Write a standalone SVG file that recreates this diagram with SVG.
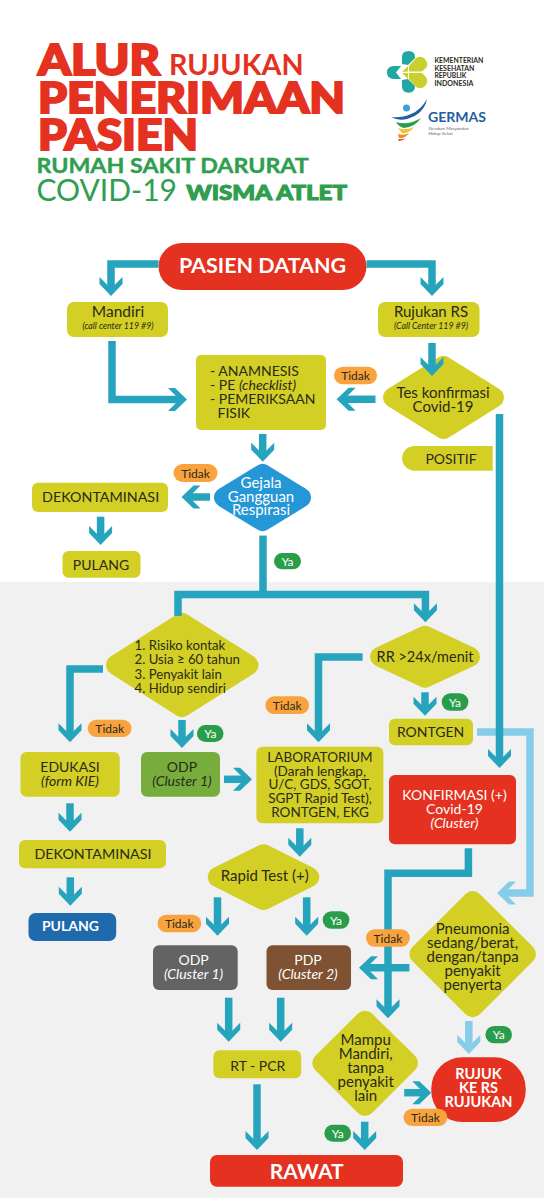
<svg xmlns="http://www.w3.org/2000/svg" width="544" height="1198" viewBox="0 0 544 1198">
<defs>
<marker id="ah" viewBox="-11 -12 21 24" markerWidth="21" markerHeight="24" refX="0" refY="0" markerUnits="userSpaceOnUse" orient="auto"><polygon fill="#27a4bd" points="9,0 -3,11.5 -10,11.5 -2,3.5 -2,-3.5 -10,-11.5 -3,-11.5"/></marker>
<marker id="ahl" viewBox="-11 -12 21 24" markerWidth="21" markerHeight="24" refX="0" refY="0" markerUnits="userSpaceOnUse" orient="auto"><polygon fill="#86cdea" points="9,0 -3,11.5 -10,11.5 -2,3.5 -2,-3.5 -10,-11.5 -3,-11.5"/></marker>
</defs>
<style>
text{font-family:"Lato","Open Sans","Liberation Sans",sans-serif;fill:#2a2a1a;text-anchor:middle;font-size:14px}
.y{fill:#d3cf24}
.dy{fill:#d3cf24;stroke:#d3cf24;stroke-width:20;stroke-linejoin:round}
.dz{fill:#2596d6;stroke:#2596d6;stroke-width:20;stroke-linejoin:round}
.c{fill:none;stroke:#27a4bd;stroke-width:7.5;marker-end:url(#ah)}
.n{fill:none;stroke:#27a4bd;stroke-width:7.5}
.l{fill:none;stroke:#86cdea;stroke-width:7.5;marker-end:url(#ahl)}
.o{fill:#f9a33f}
.g{fill:#2a9d4a}
.i{font-style:italic}
.s{font-size:8.8px;font-style:italic}
.p{font-size:12px}
.pw{font-size:12px;fill:#fff}
.b{font-weight:700}
.r{fill:#e5311f;font-weight:900;font-size:42px;stroke:#e5311f;stroke-width:2}
.gr{fill:#2f9e4f}
.st{text-anchor:start}
.f15{font-size:15px}
.wt{fill:#fff}
</style>
<rect width="544" height="1198" fill="#fff"/>
<rect y="582" width="544" height="616" fill="#f1f1f1"/>
<g id="title">
<text class="r st" x="38" y="74.500" textLength="122" lengthAdjust="spacingAndGlyphs">ALUR</text>
<text class="st" x="169" y="75" style="font-size:28px;fill:#e5311f;font-weight:700" textLength="134.6" lengthAdjust="spacingAndGlyphs">RUJUKAN</text>
<text class="r st" x="38" y="112.800" textLength="307" lengthAdjust="spacingAndGlyphs">PENERIMAAN</text>
<text class="r st" x="38" y="150.200" textLength="160" lengthAdjust="spacingAndGlyphs">PASIEN</text>
<text class="gr st" x="36.400" y="172.700" style="font-size:21.5px;font-weight:700" textLength="272.4" lengthAdjust="spacingAndGlyphs" stroke="#2f9e4f" stroke-width=".4">RUMAH SAKIT DARURAT</text>
<text class="gr st" x="36.400" y="200.700" style="font-size:30px;font-weight:400" textLength="140.6" lengthAdjust="spacingAndGlyphs">COVID-19</text>
<text class="gr st" x="186.300" y="200" style="font-size:20px;font-weight:900" textLength="160.7" lengthAdjust="spacingAndGlyphs" stroke="#2f9e4f" stroke-width="1">WISMA ATLET</text>
</g>
<g id="logo-kemenkes">
<path fill="#1ea8a0" d="M401,66 H394 Q387,66 387,72.500 Q387,79 394,79 H401 L396,72.500 Z"/>
<path fill="#1ea8a0" d="M402,64 V57 Q402,51 408.500,51 Q415,51 415,57 V58 L408,65 Z"/>
<path fill="#1ea8a0" d="M402,80 V86 Q402,92.700 408.500,92.700 Q415,92.700 415,86 L408,79 Z"/>
<path fill="#c9d02e" d="M409,71.500 V66 L416,58 Q421,55 425,59 Q429,64 426,68 L422,71.500 Z"/>
<path fill="#c9d02e" d="M409,73 V79 L416,87 Q421,90 425,86 Q429,81 426,77 L422,73 Z"/>
<path fill="#c9d02e" d="M402,72 L408,66 V71.500 Z M402,73 L408,79 V73 Z"/>
<text class="st b" x="434.400" y="62.700" style="font-size:7px" textLength="49" lengthAdjust="spacingAndGlyphs">KEMENTERIAN</text>
<text class="st b" x="434.400" y="70.700" style="font-size:7px" textLength="40" lengthAdjust="spacingAndGlyphs">KESEHATAN</text>
<text class="st b" x="434.400" y="78.300" style="font-size:7px" textLength="32" lengthAdjust="spacingAndGlyphs">REPUBLIK</text>
<text class="st b" x="434.400" y="86" style="font-size:7px" textLength="39" lengthAdjust="spacingAndGlyphs">INDONESIA</text>
</g>
<g id="logo-germas">
<path fill="#1f5fa0" d="M427,99 Q424,114 407,119 Q398,121 391,117 Q402,118 411,114 Q421,110 427,99 Z"/>
<circle cx="406.500" cy="108" r="3.500" fill="#3aa0d8"/>
<path fill="#2a9d4a" d="M396,122 Q408,126 421,118 Q415,127 404,128 Q399,127 396,122 Z"/>
<path fill="#f2c230" d="M398,128 Q406,131 414,127 Q409,134 402,133 Z"/>
<path fill="#f08a24" d="M398,134 Q404,136 409,133 Q405,139 399,138 Z"/>
<path fill="#e5311f" d="M398,139 Q402,140 406,138 Q403,141 399,141 Z"/>
<text class="st b" x="428" y="122.300" style="font-size:14px;fill:#1f5fa0" textLength="58" lengthAdjust="spacingAndGlyphs">GERMAS</text>
<text class="st" x="428.500" y="130" style="font-size:4.500px;fill:#666">Gerakan Masyarakat</text>
<text class="st" x="428.500" y="134.500" style="font-size:4.500px;fill:#666">Hidup Sehat</text>
</g>
<g id="n-pasien"><rect x="158.500" y="243" width="208" height="47" rx="23.500" fill="#e5311f"/><text class="b wt" x="262.500" y="273" style="font-size:21.5px">PASIEN DATANG</text></g>
<g id="n-mandiri"><rect class="y" x="67" y="302" width="101" height="35" rx="7"/><text x="118" y="317" style="font-size:15.500px">Mandiri</text><text class="s" x="118" y="329">(call center 119 #9)</text></g>
<g id="n-rujukan"><rect class="y" x="378" y="302" width="101.500" height="35" rx="7"/><text class="f15" x="431" y="317">Rujukan RS</text><text class="s" x="431" y="329">(Call Center 119 #9)</text></g>
<g id="n-anamnesis"><rect class="y" x="196" y="355" width="130" height="75" rx="5"/>
<text class="st" x="210" y="376">- ANAMNESIS</text>
<text class="st" x="210" y="390">- PE <tspan class="i">(checklist)</tspan></text>
<text class="st" x="210" y="404">- PEMERIKSAAN</text>
<text class="st" x="217.500" y="417.700">FISIK</text></g>
<g id="n-tes"><polygon class="dy" points="393,397.500 443.500,366 494,397.500 443.500,429"/><text class="f15" x="443" y="398">Tes konfirmasi</text><text class="f15" x="443" y="412">Covid-19</text></g>
<g id="n-positif"><path class="y" d="M414.500,446 H492.700 V470.700 H414.500 A12.300,12.300 0 0 1 414.500,446 Z"/><text x="451" y="464">POSITIF</text></g>
<g id="n-gejala"><polygon class="dz" points="224,497.500 262.600,474 301,497.500 262.600,521"/><text class="f15 wt" x="261" y="487.700">Gejala</text><text class="f15 wt" x="261" y="501.700">Gangguan</text><text class="f15 wt" x="261" y="515">Respirasi</text></g>
<g id="n-dekon1"><rect class="y" x="32" y="482.700" width="136" height="29.300" rx="6"/><text x="100.600" y="502.300" style="font-size:14.300px">DEKONTAMINASI</text></g>
<g id="n-pulang1"><rect class="y" x="62.500" y="551" width="78" height="26.700" rx="6"/><text x="101" y="570">PULANG</text></g>
<g id="n-risiko"><polygon class="dy" points="116,665 182,623 248.500,665 182,707"/>
<text class="st" x="134.600" y="650" style="font-size:13.200px">1. Risiko kontak</text>
<text class="st" x="134.600" y="664" style="font-size:13.200px">2. Usia ≥ 60 tahun</text>
<text class="st" x="134.600" y="678.700" style="font-size:13.200px">3. Penyakit lain</text>
<text class="st" x="134.600" y="692.700" style="font-size:13.200px">4. Hidup sendiri</text></g>
<g id="n-rr"><polygon class="dy" points="380,656.700 425,635.700 470,656.700 425,677.700"/><text x="425" y="661.700" style="font-size:14.500px">RR &gt;24x/menit</text></g>
<g id="n-edukasi"><rect class="y" x="20.500" y="752" width="99.200" height="44.700" rx="6"/><text x="70" y="772.300">EDUKASI</text><text class="i" x="70" y="786">(form KIE)</text></g>
<g id="n-odp1"><rect x="141" y="752" width="79" height="44.700" rx="6" fill="#76ad3d"/><text x="182" y="772.300">ODP</text><text class="i" x="182" y="786">(Cluster 1)</text></g>
<g id="n-lab"><rect class="y" x="256.400" y="746.700" width="127" height="76.600" rx="6"/>
<text x="320" y="761.700" style="font-size:13.500px">LABORATORIUM</text>
<text x="320" y="775.700" style="font-size:13.500px">(Darah lengkap,</text>
<text x="320" y="789.300" style="font-size:13.500px">U/C, GDS, SGOT,</text>
<text x="320" y="803.300" style="font-size:13.500px">SGPT Rapid Test),</text>
<text x="320" y="817" style="font-size:13.500px">RONTGEN, EKG</text></g>
<g id="n-rontgen"><rect class="y" x="389" y="718.700" width="84" height="26.600" rx="6"/><text x="430.600" y="737.300">RONTGEN</text></g>
<g id="n-konfirmasi"><rect x="389" y="775" width="127" height="69.300" rx="6" fill="#e5311f"/><text class="wt" x="454.500" y="800">KONFIRMASI (+)</text><text class="wt" x="454.500" y="814.300">Covid-19</text><text class="i wt" x="454.500" y="828.300">(Cluster)</text></g>
<g id="n-dekon2"><rect class="y" x="19" y="840" width="147" height="28.300" rx="6"/><text x="93" y="859.300" style="font-size:14.300px">DEKONTAMINASI</text></g>
<g id="n-rapid"><polygon class="dy" points="217.800,877 263.500,854.300 309.200,877 263.500,900"/><text class="f15" x="264.700" y="881">Rapid Test (+)</text></g>
<g id="n-pulang2"><rect x="28.500" y="913" width="87.700" height="28" rx="7" fill="#1f69ad"/><text class="b wt" x="70.400" y="931">PULANG</text></g>
<g id="n-pneumonia"><polygon class="dy" points="419.400,954 472.700,901 526,954 472.700,1007.300"/>
<text class="f15" x="472.600" y="934.300">Pneumonia</text><text class="f15" x="472.600" y="948.300">sedang/berat,</text><text class="f15" x="472.600" y="962.300">dengan/tanpa</text><text class="f15" x="472.600" y="976.300">penyakit</text><text class="f15" x="472.600" y="990.300">penyerta</text></g>
<g id="n-odp2"><rect x="153" y="945.300" width="84.700" height="44.700" rx="6" fill="#636363"/><text class="wt" x="193.600" y="965">ODP</text><text class="i wt" x="193.600" y="978.700">(Cluster 1)</text></g>
<g id="n-pdp"><rect x="266.500" y="945.300" width="84.500" height="44.700" rx="6" fill="#7f5233"/><text class="wt" x="308" y="965">PDP</text><text class="i wt" x="308" y="978.700">(Cluster 2)</text></g>
<g id="n-rtpcr"><rect class="y" x="213.400" y="1050.300" width="87.800" height="28" rx="6"/><text x="257.800" y="1070.700">RT - PCR</text></g>
<g id="n-mampu"><polygon class="dy" points="322.300,1063 365,1020.700 408,1063 365,1106"/>
<text class="f15" x="365.700" y="1045">Mampu</text><text class="f15" x="365.700" y="1059">Mandiri,</text><text class="f15" x="365.700" y="1073">tanpa</text><text class="f15" x="365.700" y="1087.300">penyakit</text><text class="f15" x="365.700" y="1101.300">lain</text></g>
<g id="n-rujuk"><rect x="431.300" y="1057.300" width="94.400" height="64.700" rx="31" fill="#e5311f"/><text class="b wt" x="478.500" y="1079" style="font-size:14.500px">RUJUK</text><text class="b wt" x="478.500" y="1093" style="font-size:14.500px">KE RS</text><text class="b wt" x="478.500" y="1107" style="font-size:14.500px">RUJUKAN</text></g>
<g id="n-rawat"><rect x="210" y="1155" width="193" height="31.700" rx="7" fill="#e5311f"/><text class="b wt" x="306.700" y="1179" style="font-size:21px">RAWAT</text></g>
<g id="connectors">
<path class="l" d="M477,732 H530 V893 H506"/>
<path class="l" d="M468.800,1021 V1045"/>
<path class="c" d="M158.500,264 H111 V287"/>
<path class="c" d="M366.500,264 H432 V287"/>
<path class="c" d="M112,341 V399.500 H178"/>
<path class="c" d="M432,343 V367"/>
<path class="c" d="M375.500,399.300 H345.600"/>
<path class="c" d="M499.500,414 V759"/>
<path class="c" d="M262.700,434 V452.700"/>
<path class="c" d="M210,497 H190.500"/>
<path class="c" d="M100.600,516.700 V536"/>
<path class="n" d="M263,535.600 V594.500"/>
<path class="c" d="M178,616 V594.500 H425.400 V613.300"/>
<path class="c" d="M103,669 H70 V733.300"/>
<path class="c" d="M182,720 V739"/>
<path class="c" d="M224,779.300 H243"/>
<path class="c" d="M362.600,657 H318.500 V733.300"/>
<path class="c" d="M425,692.300 V706.700"/>
<path class="c" d="M468.400,848.300 V873.300 H388 V1009.300"/>
<path class="c" d="M299.800,828.300 V847.700"/>
<path class="c" d="M70,803.300 V822.700"/>
<path class="c" d="M70.300,877.300 V896.700"/>
<path class="c" d="M217.500,897.300 V926.700"/>
<path class="c" d="M306.700,897.300 V926.700"/>
<path class="c" d="M409.400,967.700 H368"/>
<path class="c" d="M228.700,997.700 V1032.700"/>
<path class="c" d="M280.700,997.700 V1032.700"/>
<path class="c" d="M257,1084.300 V1141"/>
<path class="c" d="M404.200,1092.700 H422.300"/>
<path class="c" d="M364.700,1121.700 V1141"/>
</g>
<g id="labels">
<g id="l-t1"><rect class="o" x="334" y="366.700" width="43" height="17.600" rx="8.800"/><text class="p" x="355.500" y="380">Tidak</text></g>
<g id="l-t2"><rect class="o" x="173.500" y="464" width="44" height="18" rx="9"/><text class="p" x="195.500" y="477.500">Tidak</text></g>
<g id="l-y1"><rect class="g" x="274" y="553" width="27" height="16.300" rx="8.150"/><text class="pw" x="287.500" y="565.500">Ya</text></g>
<g id="l-t3"><rect class="o" x="87.800" y="719.700" width="43.700" height="17.300" rx="8.650"/><text class="p" x="109.700" y="733">Tidak</text></g>
<g id="l-y2"><rect class="g" x="197" y="725" width="26.500" height="17" rx="8.500"/><text class="pw" x="210.300" y="738">Ya</text></g>
<g id="l-t4"><rect class="o" x="265.400" y="696.300" width="43.600" height="17.700" rx="8.800"/><text class="p" x="287.200" y="709.500">Tidak</text></g>
<g id="l-y3"><rect class="g" x="441.700" y="693.300" width="26.700" height="17.400" rx="8.700"/><text class="pw" x="455" y="706.500">Ya</text></g>
<g id="l-t5"><rect class="o" x="157.500" y="914.700" width="43.700" height="17.600" rx="8.800"/><text class="p" x="179.300" y="928">Tidak</text></g>
<g id="l-y4"><rect class="g" x="322.700" y="911.300" width="26.700" height="17.400" rx="8.700"/><text class="pw" x="336" y="924.500">Ya</text></g>
<g id="l-t6"><rect class="o" x="366" y="929.300" width="43.800" height="17.400" rx="8.700"/><text class="p" x="387.900" y="942.500">Tidak</text></g>
<g id="l-y5"><rect class="g" x="485.400" y="1026" width="26.600" height="17.300" rx="8.650"/><text class="pw" x="498.700" y="1039">Ya</text></g>
<g id="l-t7"><rect class="o" x="403.500" y="1108.700" width="43.800" height="17.300" rx="8.650"/><text class="p" x="425.400" y="1122">Tidak</text></g>
<g id="l-y6"><rect class="g" x="324.400" y="1124.700" width="26.600" height="17" rx="8.500"/><text class="pw" x="337.700" y="1137.500">Ya</text></g>
</g>
</svg>
